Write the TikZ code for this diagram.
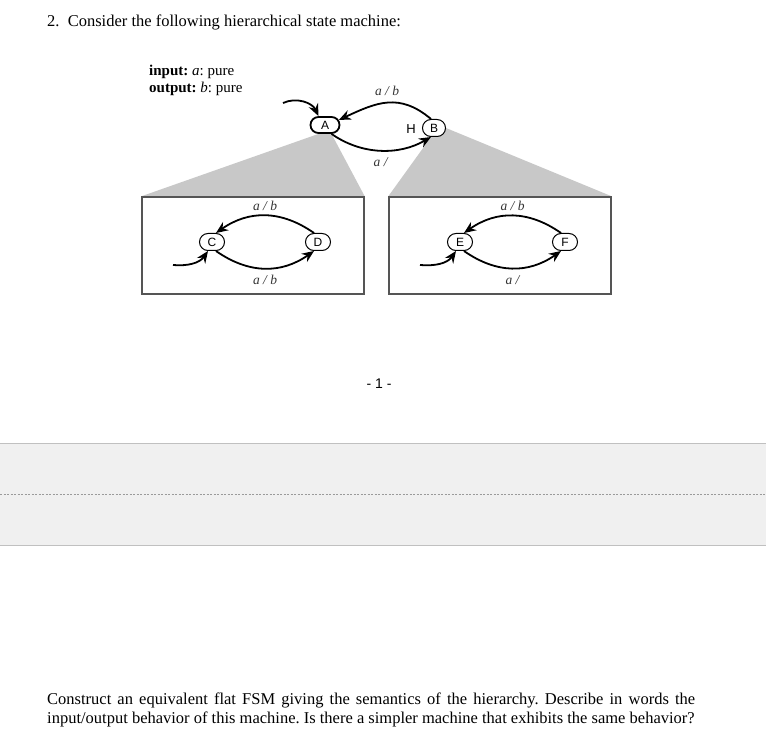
\documentclass[tikz,border=0pt]{standalone}
\usepackage{fontspec}
\setmainfont{Liberation Serif}
\setsansfont{Liberation Sans}
\usetikzlibrary{arrows.meta,shapes.misc,backgrounds}
\definecolor{wedgegray}{HTML}{C8C8C8}
\definecolor{band}{HTML}{F0F0F0}
\definecolor{bandline}{HTML}{C0C0C0}
\definecolor{boxline}{HTML}{555555}
\frenchspacing
\begin{document}
\begin{tikzpicture}[x=1pt, y=1pt,
    state/.style = {draw, fill=white, rounded rectangle, line width=1pt,
                    minimum width=27pt, minimum height=17pt, inner sep=1pt,
                    font=\sffamily\fontsize{12}{12}\selectfont},
    trans/.style = {-{Stealth[length=12pt,width=10pt,inset=4pt]}, line width=1.8pt},
    hist/.style  = {-{Stealth[open,length=12pt,width=10pt,inset=4pt]}, line width=1.8pt},
    lbl/.style   = {font=\itshape\fontsize{13.5}{13.5}\selectfont, text=black!80},
    refine/.style = {draw=boxline, fill=white, line width=1.4pt, minimum width=222pt,
                     minimum height=97pt, inner sep=0pt}]
    \useasboundingbox (0,0) rectangle (766,-746);

    % Aufgabe
    \node[anchor=west, inner sep=0pt, font=\fontsize{16.5}{18}\selectfont] (title) at (47,-22)
        {2.\ \ Consider the following hierarchical state machine:};

    % Ein- und Ausgaben
    \node[anchor=west, align=left, inner sep=0pt, font=\fontsize{15}{17}\selectfont] (io) at (149,-80)
        {\textbf{input:} \textit{a}: pure\\ \textbf{output:} \textit{b}: pure};

    % Verfeinerungen
    \node[refine] (left)  at (253,-245.5) {};
    \node[refine] (right) at (500,-245.5) {};

    % Zustaende oben
    \node[state, line width=1.8pt, minimum width=31pt, minimum height=16pt] (A) at (325,-125) {A};
    \node[state, minimum width=25pt] (B) at (434,-128) {B};
    \node[font=\sffamily\fontsize{13}{13}\selectfont] (H) at (411,-129) {H};

    % graue Keile
    \begin{scope}[on background layer]
        \fill[wedgegray] (A.south west) -- (left.north west) -- (left.north east) -- (A.south east) -- cycle;
        \fill[wedgegray] (B.south west) -- (right.north west) -- (right.north east) -- (B.east) -- cycle;
    \end{scope}

    % Uebergaenge oben
    \coordinate (initA) at (283,-103);
    \draw[trans] (initA) to[out=25, in=115] (A.north west);
    \draw[trans] (A.south east) to[out=-35, in=-150, looseness=0.95]
        node[lbl, midway, below=3pt] {a /} (B.south west);
    \draw[hist] (B.north west) to[out=140, in=25, looseness=1.15]
        node[lbl, midway, above=3pt] {a / b} (A.20);

    % linke Verfeinerung
    \node[state] (C) at (212,-242) {C};
    \node[state] (D) at (318,-242) {D};
    \coordinate (initC) at (173,-265);
    \draw[trans] (initC) to[out=-5, in=235] (C.south west);
    \draw[trans] (C.south east) to[out=-35, in=-145, looseness=1.05]
        node[lbl, midway, below=3pt] {a / b} (D.south west);
    \draw[trans] (D.north west) to[out=145, in=35, looseness=1.05]
        node[lbl, midway, above=1pt] {a / b} (C.north east);

    % rechte Verfeinerung
    \node[state] (E) at (460,-242) {E};
    \node[state] (F) at (565,-242) {F};
    \coordinate (initE) at (420,-265);
    \draw[trans] (initE) to[out=-5, in=235] (E.south west);
    \draw[trans] (E.south east) to[out=-35, in=-145, looseness=1.05]
        node[lbl, midway, below=3pt] {a /} (F.south west);
    \draw[trans] (F.north west) to[out=145, in=35, looseness=1.05]
        node[lbl, midway, above=1pt] {a / b} (E.north east);

    % Seitenzahl
    \node[font=\sffamily\fontsize{14}{14}\selectfont] (page) at (379,-384) {- 1 -};

    % Seitenumbruch
    \fill[band] (0,-443) rectangle (766,-545);
    \draw[bandline, line width=1pt] (0,-443) -- (766,-443);
    \draw[bandline, line width=1pt] (0,-545) -- (766,-545);
    \draw[bandline!80!black, dash pattern=on 2pt off 1.5pt, line width=0.6pt] (0,-494) -- (766,-494);

    % Fragen
    \node[anchor=north west, text width=648pt, align=justify, inner sep=0pt,
          font=\fontsize{16.5}{18.5}\selectfont] (quest) at (47,-693)
        {Construct an equivalent flat FSM giving the semantics of the hierarchy. Describe in words the\linebreak
         input/output behavior of this machine. Is there a simpler machine that exhibits the same behavior?};
\end{tikzpicture}
\end{document}
